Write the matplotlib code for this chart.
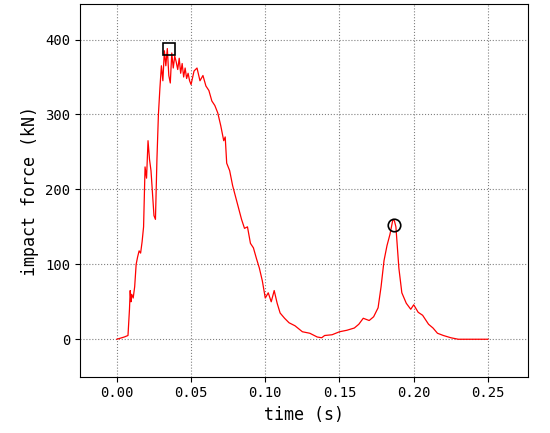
import matplotlib.pyplot as plt

t = [0.000, 0.005, 0.0075, 0.0085, 0.009, 0.0095, 0.010, 0.011, 0.012, 0.013, 0.014, 0.015, 0.016,
     0.017, 0.018, 0.019, 0.020, 0.021, 0.022, 0.023, 0.024, 0.025, 0.026, 0.027, 0.028, 0.029,
     0.030, 0.031, 0.032, 0.033, 0.034, 0.035, 0.036, 0.037, 0.038, 0.039, 0.040, 0.041, 0.042,
     0.043, 0.044, 0.045, 0.046, 0.047, 0.048, 0.049, 0.050, 0.052, 0.054, 0.056, 0.058, 0.060,
     0.062, 0.064, 0.066, 0.068, 0.070, 0.072, 0.073, 0.074, 0.076, 0.078, 0.080, 0.082, 0.084,
     0.086, 0.088, 0.090, 0.092, 0.094, 0.096, 0.098, 0.100, 0.102, 0.104, 0.106, 0.108, 0.110,
     0.113, 0.116, 0.120, 0.125, 0.130, 0.135, 0.138, 0.140, 0.145, 0.150, 0.155, 0.160, 0.163,
     0.166, 0.170, 0.173, 0.176, 0.178, 0.180, 0.182, 0.184, 0.186, 0.187, 0.188, 0.190, 0.192,
     0.195, 0.198, 0.200, 0.203, 0.206, 0.210, 0.213, 0.216, 0.220, 0.225, 0.230, 0.250]
force = [0, 3, 5, 40, 65, 50, 60, 55, 70, 100, 110, 118, 115,
         130, 150, 230, 215, 265, 240, 225, 195, 165, 160, 240, 300, 335,
         365, 345, 385, 365, 388, 352, 342, 382, 362, 378, 370, 360, 375,
         355, 368, 350, 362, 348, 355, 345, 340, 358, 362, 345, 352, 338,
         332, 318, 312, 302, 285, 265, 270, 235, 225, 205, 190, 175, 160,
         148, 150, 128, 122, 108, 95, 78, 55, 62, 50, 65, 48, 35,
         28, 22, 18, 10, 8, 3, 2, 5, 6, 10, 12, 15, 20,
         28, 25, 30, 42, 70, 105, 125, 140, 160, 158, 150, 95, 62,
         48, 40, 46, 36, 32, 20, 15, 8, 5, 2, 0, 0]

fig, ax = plt.subplots(figsize=(5.5, 4.33), dpi=100)
fig.subplots_adjust(left=0.145, right=0.96, top=0.99, bottom=0.13)
ax.plot(t, force, color='red', lw=0.9)
ax.plot([0.035], [388], marker='s', ms=9, mfc='none', mec='black', mew=1.2)
ax.plot([0.187], [153], marker='o', ms=9, mfc='none', mec='black', mew=1.2)
ax.set_xlim(-0.025, 0.277)
ax.set_ylim(-50, 447)
ax.set_xticks([0.00, 0.05, 0.10, 0.15, 0.20, 0.25])
ax.set_xticklabels(['0.00', '0.05', '0.10', '0.15', '0.20', '0.25'])
ax.set_yticks([0, 100, 200, 300, 400])
ax.grid(True, linestyle=':', color='gray', lw=0.8)
for lab in ax.get_xticklabels() + ax.get_yticklabels():
    lab.set_family('DejaVu Sans Mono')
    lab.set_fontsize(10)
ax.set_xlabel('time (s)', family='DejaVu Sans Mono', fontsize=12)
ax.set_ylabel('impact force (kN)', family='DejaVu Sans Mono', fontsize=12)
fig.savefig('out.png')
